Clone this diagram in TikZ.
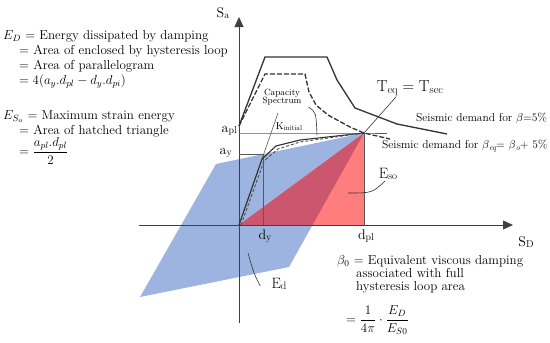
\RequirePackage{fix-cm}
\documentclass[tikz,border=0pt]{standalone}
\usepackage{amsmath}
\usepackage{graphicx}
\usepackage{tikz}
\usetikzlibrary{arrows.meta,calc}
\usepackage{xcolor}
\definecolor{loopblue}{RGB}{157,180,224}
\definecolor{trired}{RGB}{255,125,125}
\definecolor{overred}{RGB}{204,86,110}
\newcommand{\lowtxt}[1]{\raisebox{-0.25ex}{\scalebox{0.72}{#1}}}
\newcommand{\fsz}[1]{\fontsize{#1}{#1}\selectfont}

\begin{document}
\begin{tikzpicture}[x=1pt,y=-1pt,>={Triangle[length=10pt,width=9pt]},
  every node/.style={font=\fsz{13},inner sep=1pt},
  axis/.style={black!75,line width=0.8pt},
  guide/.style={black!65,line width=0.6pt},
  demand/.style={black!80,line width=1.3pt},
  ptr/.style={black!80,line width=0.6pt}]
\useasboundingbox (0,0) rectangle (550,343);
\fill[loopblue] (216,164) -- (364,133) -- (289,267) -- (140,297) -- cycle;
\fill[trired] (239,225) -- (364,133) -- (364,225) -- cycle;
\fill[overred] (239,225) -- (364,133) -- (312.5,225) -- cycle;
\coordinate (o) at (239,225);
\coordinate (pk) at (364,133);
\coordinate (yl) at (263,154);
\draw[axis,->] (239,323) -- (239,17);
\draw[axis,->] (139,225) -- (513,225);
\draw[guide] (239,133) -- (pk) -- (387,133);
\draw[guide] (239,154) -- (yl) -- (263,225);
\draw[guide] (pk) -- (364,225);
\draw[guide] (o) -- (278,113);
\draw[demand] (239,126) -- (265,57) -- (327,57) -- (337,80) -- (355,108) -- (397,124) -- (447,134);
\draw[demand,dash pattern=on 5pt off 2pt] (239,126) -- (265,74) -- (305,74) -- (309,92) -- (316,105) -- (328,115) -- (350,127) -- (pk) -- (390,139);
\draw[demand,line width=1.1pt] (o) -- (262,159) -- (276,146) -- (300,140) -- (pk);
\draw[black!70,line width=0.9pt,dash pattern=on 3pt off 2pt] (241,225) -- (264,161) -- (278,149) -- (300,142) -- (pk);
\node[font=\fsz{14}] (sa) at (223,13) {S\lowtxt{a}};
\node[font=\fsz{14}] (sd) at (526,242) {S\lowtxt{D}};
\node[font=\fsz{14},anchor=east] (apl) at (238,131) {a\lowtxt{pl}};
\node[font=\fsz{14},anchor=east] (ay) at (233,153) {a\lowtxt{y}};
\node[font=\fsz{14}] (dy) at (265,236) {d\lowtxt{y}};
\node[font=\fsz{14}] (dpl) at (366,236) {d\lowtxt{pl}};
\node[font=\fsz{9},align=center] (cap) at (282,97) {Capacity\\[-1pt]Spectrum};
\node[font=\fsz{10}] (kini) at (289,127) {K\lowtxt{initial}};
\node[font=\fsz{16}] (teq) at (410,88) {T\lowtxt{eq} = T\lowtxt{sec}};
\node[font=\fsz{11.5},anchor=west] (dem5) at (415,118) {Seismic demand for $\beta$=5\%};
\node[font=\fsz{11.5},anchor=west] (demeq) at (381,146) {Seismic demand for $\beta$\lowtxt{\itshape eq}= $\beta$\lowtxt{\itshape o}+ 5\%};
\node[font=\fsz{15}] (esolbl) at (388,174) {E\lowtxt{so}};
\node[font=\fsz{15}] (edlbl) at (279,284) {E\lowtxt{d}};
\draw[ptr] ($(teq.south west)!0.3!(teq.south east)$) -- (pk);
\draw[ptr] ([xshift=6pt,yshift=-1pt]cap.south east) .. controls (316,112) .. (317,135);
\draw[ptr] ([xshift=-3pt]esolbl.south) .. controls (372,193) .. (348,193);
\draw[ptr] ([xshift=-10pt,yshift=-2pt]edlbl.west) .. controls (254,274) .. (248,253);
\node[anchor=north west,align=left,font=\fontsize{13}{15}\selectfont] (ed) at (2,29)
  {$E_D$ = Energy dissipated by damping\\
   \hspace*{16pt}= Area of enclosed by hysteresis loop\\
   \hspace*{16pt}= Area of parallelogram\\
   \hspace*{16pt}$=4(a_y.d_{pl}-d_y.d_{pi})$};
\node[anchor=north west,align=left,font=\fontsize{13}{15}\selectfont] (eso) at (2,109)
  {$E_{S_o}$ = Maximum strain energy\\
   \hspace*{16pt}= Area of hatched triangle\\
   \hspace*{16pt}$=\dfrac{a_{pl}.d_{pl}}{2}$};
\node[anchor=north west,align=left,font=\fontsize{13}{13}\selectfont] (beta) at (336,254)
  {$\beta_0$ = Equivalent viscous damping\\
   \hspace*{19pt}associated with full\\
   \hspace*{19pt}hysteresis loop area};
\node[anchor=west] (frm) at (345,320) {$=\dfrac{1}{4\pi}\cdot\dfrac{E_D}{E_{S0}}$};
\end{tikzpicture}
\end{document}
